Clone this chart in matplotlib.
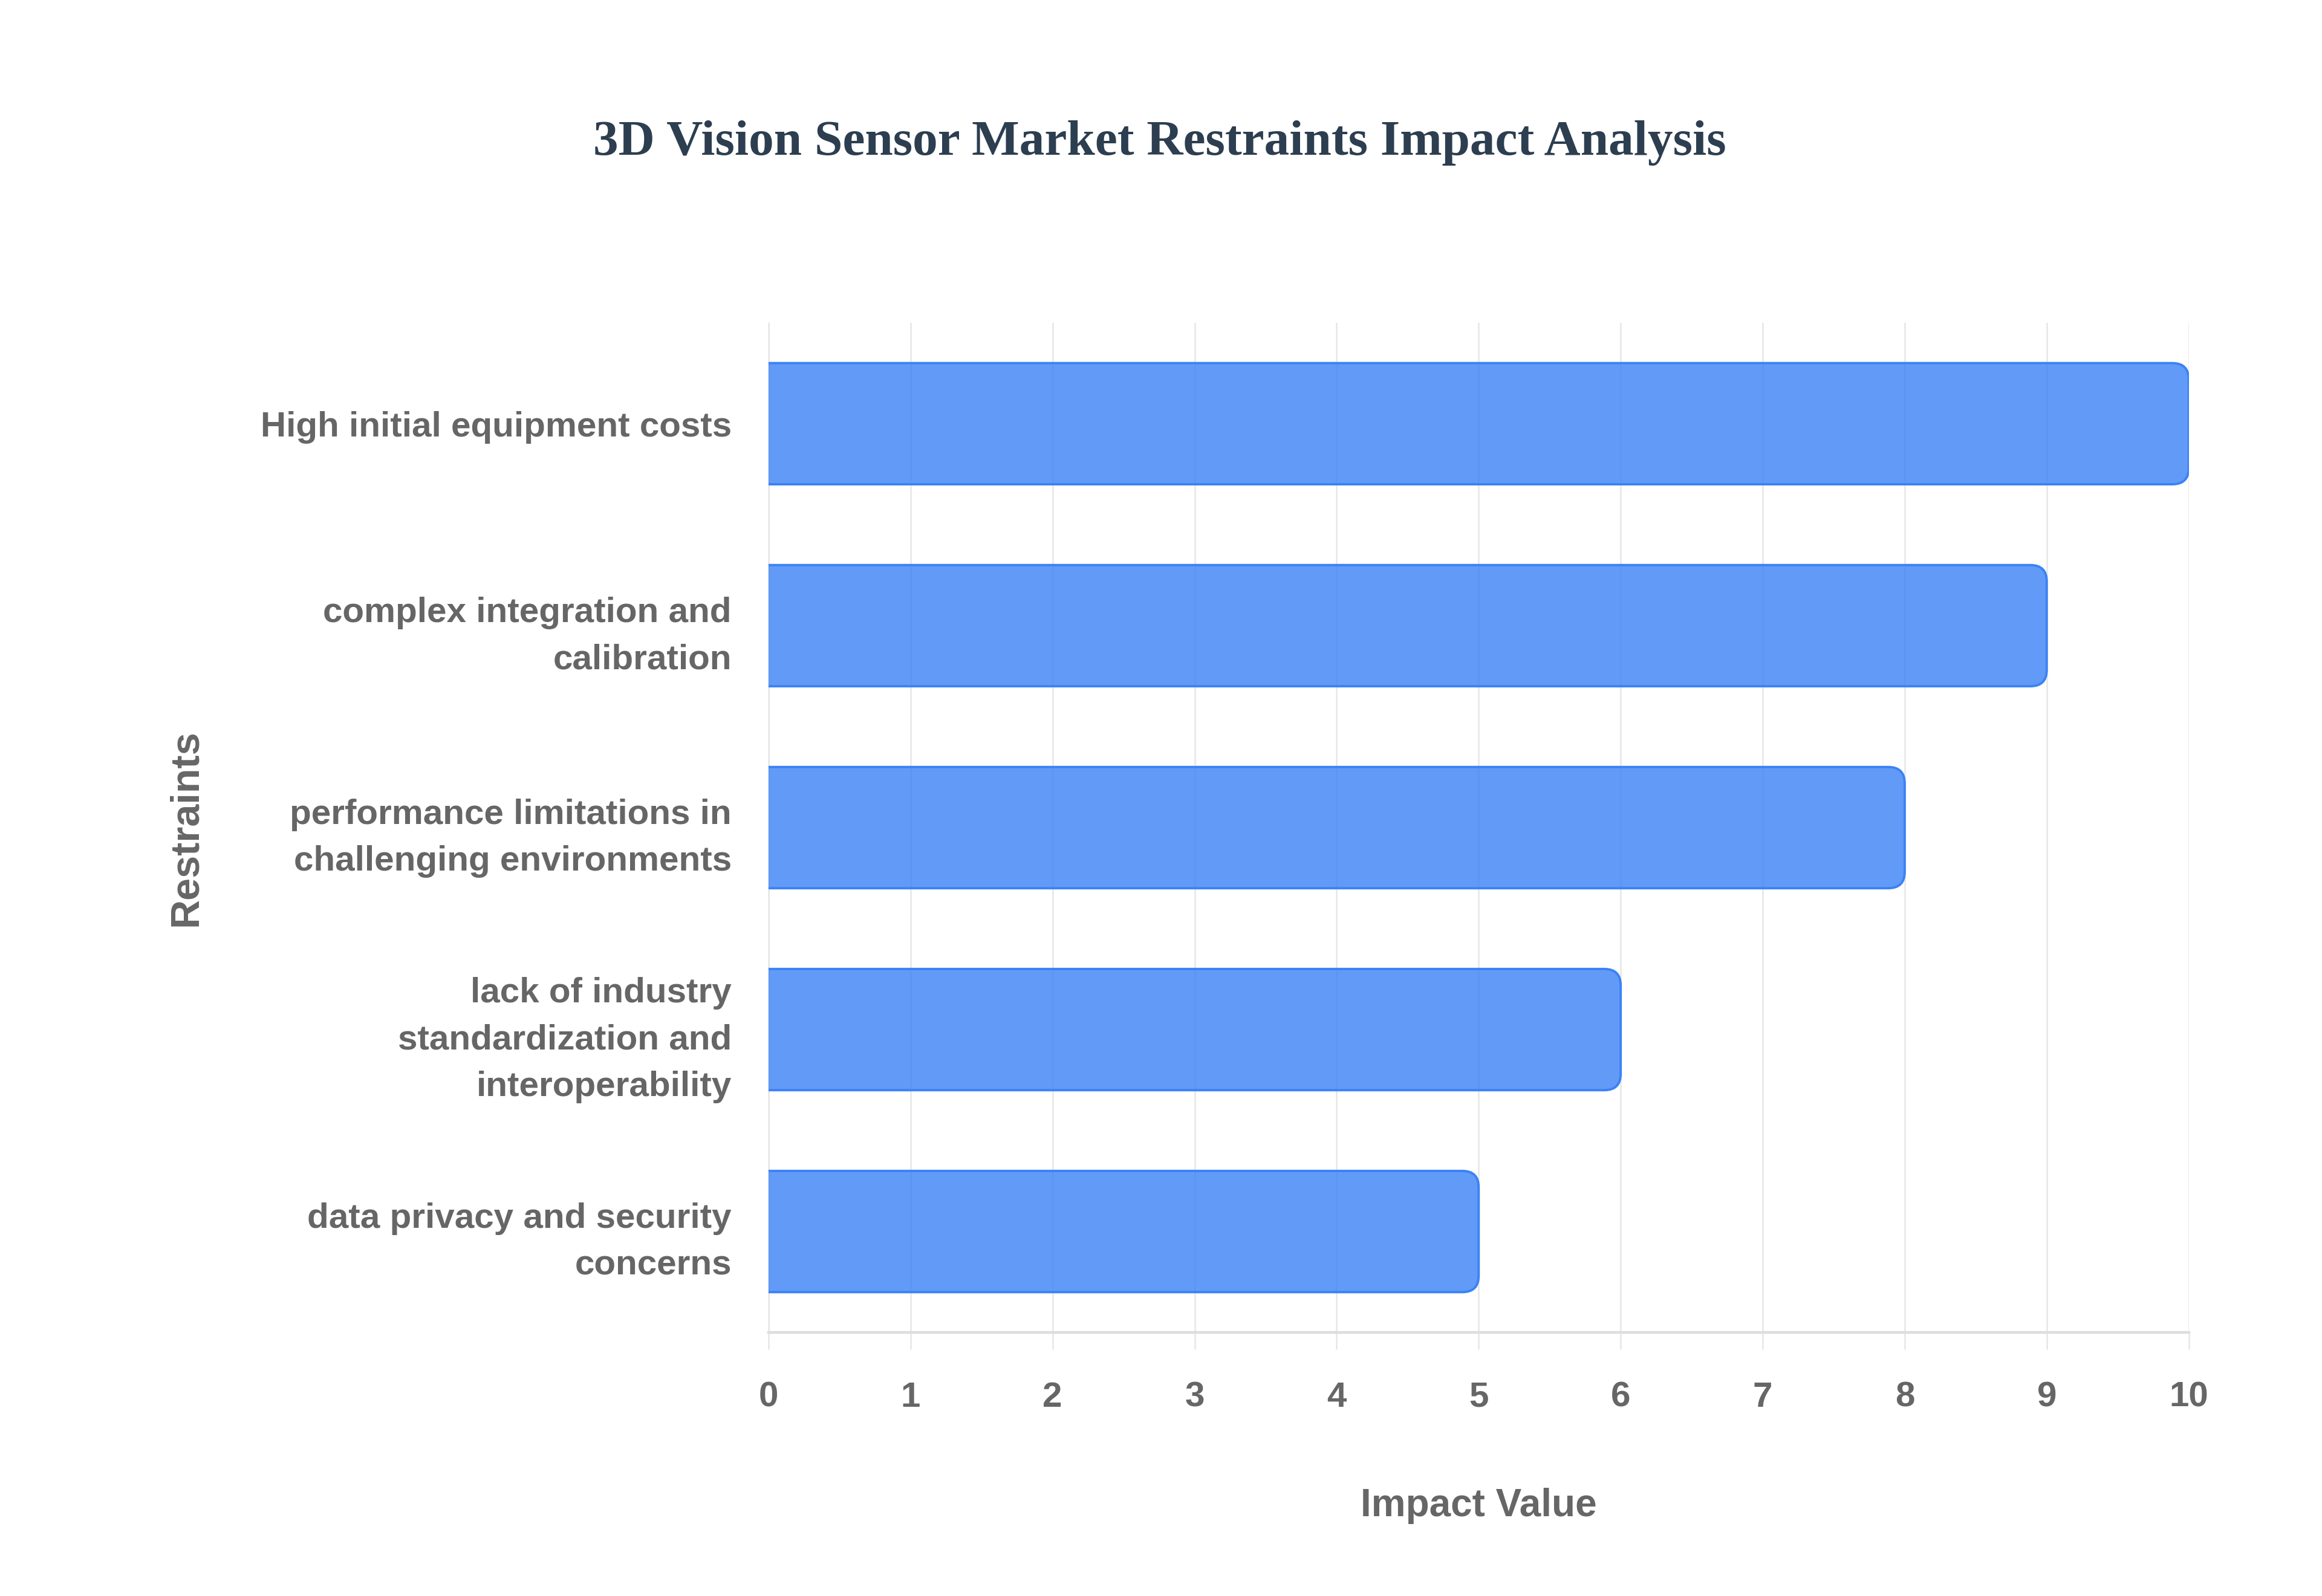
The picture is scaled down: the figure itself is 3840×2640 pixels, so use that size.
import matplotlib
matplotlib.use("Agg")
import matplotlib.pyplot as plt
from matplotlib.patches import FancyBboxPatch

# data
restraints = [
    "High initial equipment costs",
    "complex integration and\ncalibration",
    "performance limitations in\nchallenging environments",
    "lack of industry\nstandardization and\ninteroperability",
    "data privacy and security\nconcerns",
]
impact = [10, 9, 8, 6, 5]
x_ticks = [0, 1, 2, 3, 4, 5, 6, 7, 8, 9, 10]

grey = "#666666"
grid_c = "#e6e6e6"
fill_c = (59 / 255, 130 / 255, 246 / 255, 0.8)
edge_c = "#3B82F6"

fig = plt.figure(figsize=(19.2, 13.2), dpi=200)
ax = fig.add_axes([0.331, 0.1651, 0.6116, 0.6327])

bars = ax.barh(range(len(restraints)), impact, height=0.6)
ax.set_xlim(0, 10)
ax.set_ylim(len(restraints) - 0.5, -0.5)

# swap plain rectangles for ones rounded on the right end
for r in bars:
    x, y, w, h = r.get_x(), r.get_y(), r.get_width(), r.get_height()
    r.set_visible(False)
    p = FancyBboxPatch((x - 0.5, y), w + 0.5, h,
                       boxstyle="round,pad=0,rounding_size=0.115",
                       mutation_aspect=0.7,
                       facecolor=fill_c, edgecolor=edge_c, linewidth=1.4,
                       zorder=3)
    ax.add_patch(p)

ax.set_xticks(x_ticks)
ax.set_yticks(range(len(restraints)))
ax.set_yticklabels(restraints, fontsize=21, fontweight="bold", color=grey,
                   family="Liberation Sans", linespacing=1.55)
for t in ax.get_xticklabels():
    t.set_fontsize(21)
    t.set_fontweight("bold")
    t.set_color(grey)
    t.set_family("Liberation Sans")

ax.tick_params(axis="x", length=10, width=0.9, color=grid_c, pad=19)
ax.tick_params(axis="y", length=0, pad=22)
ax.grid(axis="x", color=grid_c, linewidth=0.9, zorder=0)
ax.set_axisbelow(True)

for s in ["top", "right"]:
    ax.spines[s].set_visible(False)
ax.spines["left"].set_color(grid_c)
ax.spines["left"].set_linewidth(0.9)
ax.spines["bottom"].set_color("#dddddd")
ax.spines["bottom"].set_linewidth(1.6)

ax.set_xlabel("Impact Value", fontsize=23, fontweight="bold", color=grey,
              family="Liberation Sans", labelpad=44)
ax.set_ylabel("Restraints", fontsize=24, fontweight="bold", color=grey,
              family="Liberation Sans")
ax.yaxis.set_label_coords(-0.397, 0.5)

fig.text(0.4994, 0.9105, "3D Vision Sensor Market Restraints Impact Analysis",
         ha="center", va="center", fontsize=30, fontweight="bold",
         color="#2C3E50", family="Liberation Serif")

fig.savefig("out.png", dpi=200, facecolor="white")
